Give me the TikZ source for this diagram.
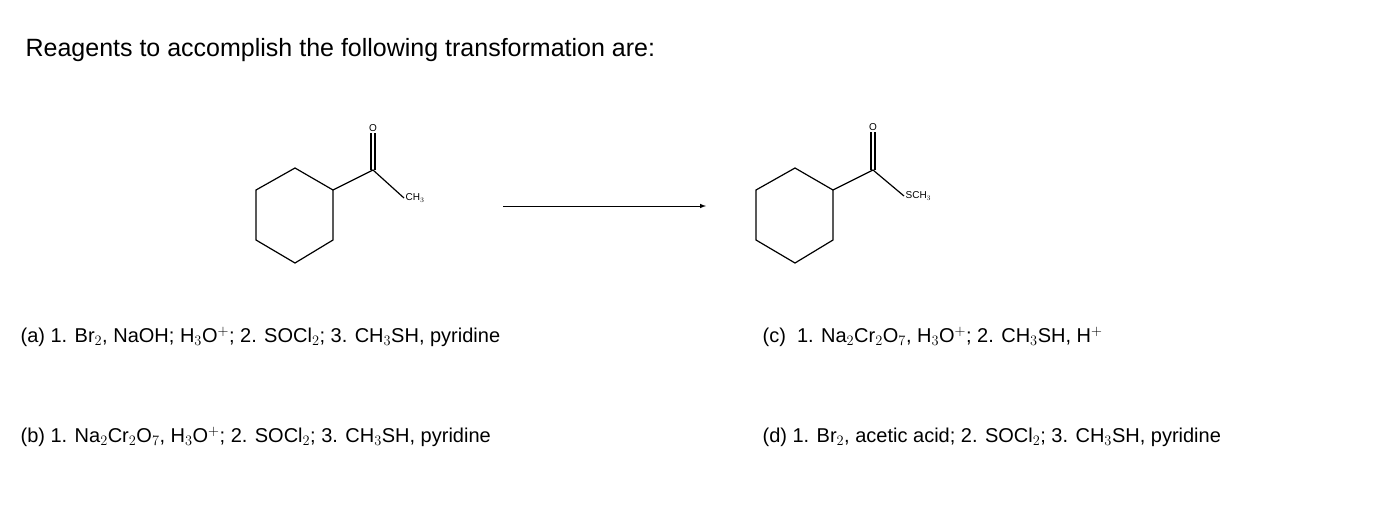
\documentclass[tikz,border=0pt]{standalone}
\usepackage{fontspec}
\setmainfont{Liberation Sans}
\begin{document}
\begin{tikzpicture}[x=1pt,y=-1pt,line width=1.2pt,
  txt/.style={anchor=west,inner sep=0pt,font=\fontsize{20}{24}\selectfont},
  atom/.style={inner sep=1pt,font=\fontsize{10}{12}\selectfont}]
\useasboundingbox (0,0) rectangle (1395,504);
\node[anchor=west,inner sep=0pt,font=\fontsize{25}{30}\selectfont] (title) at (25,50) {Reagents to accomplish the following transformation are:};
% left molecule
\coordinate (La) at (295,168); \coordinate (Lb) at (333,190); \coordinate (Lc) at (333,240);
\coordinate (Ld) at (295,263); \coordinate (Le) at (256,240); \coordinate (Lf) at (256,190);
\draw (La)--(Lb)--(Lc)--(Ld)--(Le)--(Lf)--cycle;
\coordinate (LC) at (373,170);
\node[atom] (LO) at (373,128) {O};
\node[atom,anchor=west] (LMe) at (404,198) {CH$_3$};
\draw (Lb)--(LC)--(LMe.west);
\draw ([xshift=-2pt]LC)--([xshift=-2pt]LO.south);
\draw ([xshift=2pt]LC)--([xshift=2pt]LO.south);
% arrow
\coordinate (A1) at (503,206); \coordinate (A2) at (706,206);
\draw[line width=1pt,-latex] (A1)--(A2);
% right molecule
\coordinate (Ra) at (795,168); \coordinate (Rb) at (833,190); \coordinate (Rc) at (833,240);
\coordinate (Rd) at (795,263); \coordinate (Re) at (756,240); \coordinate (Rf) at (756,190);
\draw (Ra)--(Rb)--(Rc)--(Rd)--(Re)--(Rf)--cycle;
\coordinate (RC) at (873,170);
\node[atom] (RO) at (873,127) {O};
\node[atom,anchor=west] (RS) at (904,196) {SCH$_3$};
\draw (Rb)--(RC)--(RS.west);
\draw ([xshift=-2pt]RC)--([xshift=-2pt]RO.south);
\draw ([xshift=2pt]RC)--([xshift=2pt]RO.south);
% options
\node[txt] (oa) at (20,337) {(a) 1. Br$_2$, NaOH; H$_3$O$^+$; 2. SOCl$_2$; 3. CH$_3$SH, pyridine};
\node[txt] (ob) at (20,437) {(b) 1. Na$_2$Cr$_2$O$_7$, H$_3$O$^+$; 2. SOCl$_2$; 3. CH$_3$SH, pyridine};
\node[txt] (oc) at (762,337) {(c)\ \ 1. Na$_2$Cr$_2$O$_7$, H$_3$O$^+$; 2. CH$_3$SH, H$^+$};
\node[txt] (od) at (762,437) {(d) 1. Br$_2$, acetic acid; 2. SOCl$_2$; 3. CH$_3$SH, pyridine};
\end{tikzpicture}
\end{document}
